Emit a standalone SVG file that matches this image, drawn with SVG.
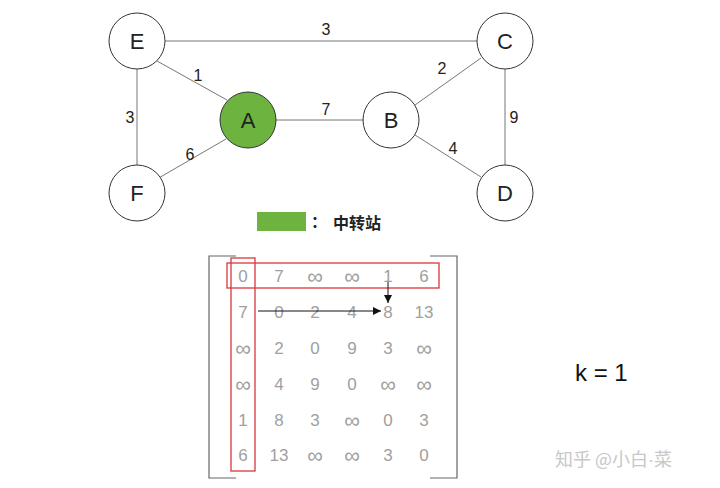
<svg xmlns="http://www.w3.org/2000/svg" width="720" height="488" viewBox="0 0 720 488">
<style>
.node circle{fill:#fff;stroke:#333;stroke-width:1}
.node text{font-family:"Liberation Sans",Arial,sans-serif;font-size:22px;fill:#222;text-anchor:middle;dominant-baseline:central}
.edges line{stroke:#777;stroke-width:1}
.el{font-family:"Liberation Sans",Arial,sans-serif;font-size:16px;fill:#222;text-anchor:middle;dominant-baseline:central}
.m text{font-family:"Liberation Sans",Arial,sans-serif;font-size:17px;fill:#a0a0a0;text-anchor:middle;dominant-baseline:central}
.m text.i{font-size:22px}
.br{fill:none;stroke:#666;stroke-width:1.2}
.red{fill:none;stroke:#d9363e;stroke-width:1.3}
.arr{stroke:#111;stroke-width:1;marker-end:url(#ah)}
</style>
<defs>
<marker id="ah" viewBox="0 0 10 10" refX="10" refY="5" markerWidth="10" markerHeight="8" orient="auto" markerUnits="userSpaceOnUse">
<path d="M0,0 L10,5 L0,10 z" fill="#111"/>
</marker>
</defs>
<rect width="720" height="488" fill="#fff"/>
<g class="edges" id="connectors">
<line x1="165" y1="41" x2="477" y2="41"/>
<line x1="157" y1="61" x2="227" y2="100"/>
<line x1="137" y1="69" x2="137" y2="165"/>
<line x1="157" y1="179" x2="226" y2="139"/>
<line x1="276" y1="120" x2="363" y2="120"/>
<line x1="415" y1="105" x2="481" y2="58"/>
<line x1="415" y1="135" x2="481" y2="177"/>
<line x1="505" y1="69" x2="505" y2="165"/>
<text class="el" x="326" y="29">3</text>
<text class="el" x="198" y="75">1</text>
<text class="el" x="442" y="68">2</text>
<text class="el" x="326" y="109">7</text>
<text class="el" x="130" y="117">3</text>
<text class="el" x="514" y="117">9</text>
<text class="el" x="190" y="154">6</text>
<text class="el" x="453" y="148">4</text>
</g>
<g class="node" id="node-E"><circle cx="137" cy="41" r="28"/><text x="137" y="41">E</text></g>
<g class="node" id="node-C"><circle cx="505" cy="41" r="28"/><text x="505" y="41">C</text></g>
<g class="node" id="node-A"><circle cx="248" cy="120" r="28" style="fill:#6db33f"/><text x="248" y="120">A</text></g>
<g class="node" id="node-B"><circle cx="391" cy="120" r="28"/><text x="391" y="120">B</text></g>
<g class="node" id="node-F"><circle cx="137" cy="193" r="28"/><text x="137" y="193">F</text></g>
<g class="node" id="node-D"><circle cx="505" cy="193" r="28"/><text x="505" y="193">D</text></g>
<g id="legend">
<rect x="257" y="212" width="49" height="19" fill="#6db33f"/>
<text x="319" y="222" font-family="'Liberation Sans','Noto Sans CJK SC',sans-serif" font-size="16" font-weight="bold" fill="#222" dominant-baseline="central" text-anchor="middle">：</text>
<text x="333" y="222" font-family="'Noto Sans CJK SC',sans-serif" font-size="16" font-weight="bold" fill="#222" dominant-baseline="central">中转站</text>
</g>
<g id="matrix">
<path class="br" d="M236,256 H209 V478 H236"/>
<path class="br" d="M430,256 H457 V478 H430"/>
<g class="m">
<text x="243" y="276">0</text><text x="279" y="276">7</text><text class="i" x="315" y="276">∞</text><text class="i" x="352" y="276">∞</text><text x="388" y="276">1</text><text x="424" y="276">6</text>
<text x="243" y="312">7</text><text x="279" y="312">0</text><text x="315" y="312">2</text><text x="352" y="312">4</text><text x="388" y="312">8</text><text x="424" y="312">13</text>
<text class="i" x="243" y="348">∞</text><text x="279" y="348">2</text><text x="315" y="348">0</text><text x="352" y="348">9</text><text x="388" y="348">3</text><text class="i" x="424" y="348">∞</text>
<text class="i" x="243" y="384">∞</text><text x="279" y="384">4</text><text x="315" y="384">9</text><text x="352" y="384">0</text><text class="i" x="388" y="384">∞</text><text class="i" x="424" y="384">∞</text>
<text x="243" y="420">1</text><text x="279" y="420">8</text><text x="315" y="420">3</text><text class="i" x="352" y="420">∞</text><text x="388" y="420">0</text><text x="424" y="420">3</text>
<text x="243" y="455">6</text><text x="279" y="455">13</text><text class="i" x="315" y="455">∞</text><text class="i" x="352" y="455">∞</text><text x="388" y="455">3</text><text x="424" y="455">0</text>
</g>
<rect class="red" x="227" y="263" width="212" height="25"/>
<rect class="red" x="231" y="258" width="24" height="213"/>
<line class="arr" x1="258" y1="311" x2="381" y2="311"/>
<line class="arr" x1="388" y1="282" x2="388" y2="303"/>
</g>
<text x="575" y="381" font-family="'Liberation Sans',Arial,sans-serif" font-size="24" fill="#111">k = 1</text>
<text x="555" y="466" font-family="'Noto Sans CJK SC',sans-serif" font-size="18" fill="#c8c8c8">知乎 @小白<tspan font-family="'Liberation Sans',sans-serif">·</tspan>菜</text>
</svg>
